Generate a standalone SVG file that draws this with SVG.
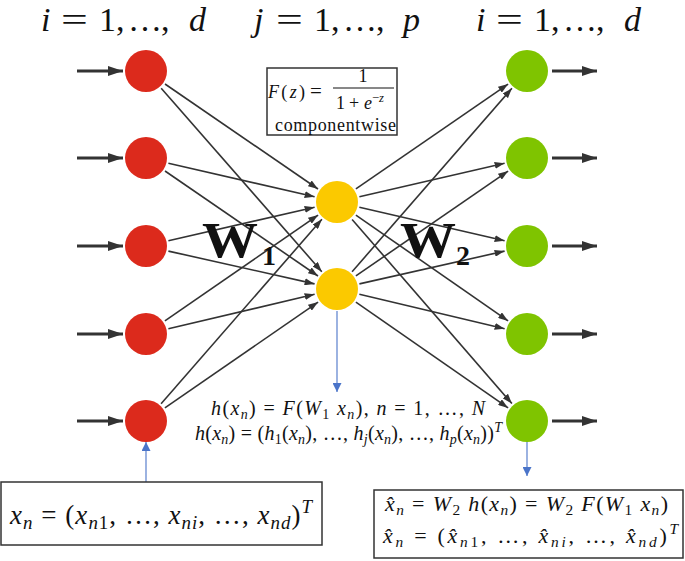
<svg xmlns="http://www.w3.org/2000/svg" width="685" height="561" viewBox="0 0 685 561">
<style>
text{font-family:'Liberation Serif','DejaVu Serif',serif;fill:#111}
.it{font-style:italic}
.sub{font-size:70%}
.c{stroke:#333;stroke-width:1.6;fill:none;marker-end:url(#ah)}
.io{stroke:#333;stroke-width:3.2;fill:none;marker-end:url(#ahb)}
.bl{stroke:#4a74c9;stroke-width:1.1;fill:none;marker-end:url(#ahblue)}
.red{fill:#dc2a1c}
.yel{fill:#fbc900}
.grn{fill:#7fc400}
.box{fill:#fff;stroke:#333;stroke-width:1.5}
</style>
<defs>
<marker id="ah" markerUnits="userSpaceOnUse" markerWidth="10" markerHeight="7" refX="10" refY="3.5" orient="auto"><path d="M0,0 L10,3.5 L0,7 z" fill="#333"/></marker>
<marker id="ahb" markerUnits="userSpaceOnUse" markerWidth="15" markerHeight="10" refX="15" refY="5" orient="auto"><path d="M0,0 L15,5 L0,10 z" fill="#333"/></marker>
<marker id="ahblue" markerUnits="userSpaceOnUse" markerWidth="9" markerHeight="9" refX="9" refY="4.5" orient="auto"><path d="M0,0 L9,4.5 L0,9 z" fill="#4a74c9"/></marker>
</defs>
<rect width="685" height="561" fill="#fff"/>

<g id="labels-top" font-family="Liberation Serif, serif" font-size="34">
<text y="31"><tspan x="41" class="it">i</tspan><tspan x="99">1,</tspan><tspan x="128">…</tspan><tspan x="161">,</tspan><tspan x="189" class="it">d</tspan></text>
<text transform="translate(61,31) scale(1.4,1)">=</text>
<text y="31"><tspan x="254" class="it">j</tspan><tspan x="314">1,</tspan><tspan x="343">…</tspan><tspan x="376">,</tspan><tspan x="403" class="it">p</tspan></text>
<text transform="translate(276,31) scale(1.4,1)">=</text>
<text y="31"><tspan x="476" class="it">i</tspan><tspan x="534">1,</tspan><tspan x="563">…</tspan><tspan x="596">,</tspan><tspan x="624" class="it">d</tspan></text>
<text transform="translate(496,31) scale(1.4,1)">=</text>
</g>

<g id="connectors">
<line class="c" x1="165.0" y1="84.0" x2="318.0" y2="189.0"/>
<line class="c" x1="161.2" y1="88.3" x2="321.8" y2="271.7"/>
<line class="c" x1="168.4" y1="163.2" x2="314.6" y2="196.8"/>
<line class="c" x1="165.0" y1="171.0" x2="318.0" y2="276.0"/>
<line class="c" x1="168.4" y1="240.8" x2="314.6" y2="207.2"/>
<line class="c" x1="168.4" y1="251.1" x2="314.6" y2="283.9"/>
<line class="c" x1="164.9" y1="320.9" x2="318.1" y2="215.1"/>
<line class="c" x1="168.4" y1="328.7" x2="314.6" y2="294.3"/>
<line class="c" x1="161.1" y1="403.7" x2="321.9" y2="219.3"/>
<line class="c" x1="164.9" y1="407.9" x2="318.1" y2="302.1"/>
<line class="c" x1="355.9" y1="188.9" x2="508.1" y2="84.1"/>
<line class="c" x1="359.4" y1="196.8" x2="504.6" y2="163.2"/>
<line class="c" x1="359.4" y1="207.2" x2="504.6" y2="240.8"/>
<line class="c" x1="355.9" y1="215.1" x2="508.1" y2="320.9"/>
<line class="c" x1="352.1" y1="219.4" x2="511.9" y2="403.6"/>
<line class="c" x1="352.1" y1="271.7" x2="511.9" y2="88.3"/>
<line class="c" x1="355.9" y1="275.9" x2="508.1" y2="171.1"/>
<line class="c" x1="359.4" y1="283.9" x2="504.6" y2="251.1"/>
<line class="c" x1="359.4" y1="294.3" x2="504.6" y2="328.7"/>
<line class="c" x1="355.9" y1="302.1" x2="508.1" y2="407.9"/>
<line class="io" x1="77" y1="71" x2="123" y2="71"/>
<line class="io" x1="77" y1="158" x2="123" y2="158"/>
<line class="io" x1="77" y1="246" x2="123" y2="246"/>
<line class="io" x1="77" y1="334" x2="123" y2="334"/>
<line class="io" x1="77" y1="421" x2="123" y2="421"/>
<line class="io" x1="552" y1="71" x2="597" y2="71"/>
<line class="io" x1="552" y1="158" x2="597" y2="158"/>
<line class="io" x1="552" y1="246" x2="597" y2="246"/>
<line class="io" x1="552" y1="334" x2="597" y2="334"/>
<line class="io" x1="552" y1="421" x2="597" y2="421"/>
<line class="bl" x1="337" y1="311" x2="337" y2="392"/>
<line class="bl" x1="146" y1="482" x2="146" y2="442"/>
<line class="bl" x1="527" y1="442" x2="527" y2="476"/>
</g>

<g id="input-nodes">
<circle class="red" cx="146" cy="71" r="21"/>
<circle class="red" cx="146" cy="158" r="21"/>
<circle class="red" cx="146" cy="246" r="21"/>
<circle class="red" cx="146" cy="334" r="21"/>
<circle class="red" cx="146" cy="421" r="21"/>
</g>
<g id="hidden-nodes">
<circle class="yel" cx="337" cy="202" r="21"/>
<circle class="yel" cx="337" cy="289" r="21"/>
</g>
<g id="output-nodes">
<circle class="grn" cx="527" cy="71" r="21"/>
<circle class="grn" cx="527" cy="158" r="21"/>
<circle class="grn" cx="527" cy="246" r="21"/>
<circle class="grn" cx="527" cy="334" r="21"/>
<circle class="grn" cx="527" cy="421" r="21"/>
</g>

<g id="activation-box" font-family="Liberation Serif, serif" font-size="18">
<rect class="box" x="267" y="68" width="130" height="67"/>
<text x="268" y="98" textLength="37" lengthAdjust="spacing"><tspan class="it">F</tspan>(<tspan class="it">z</tspan>)</text>
<text x="310" y="98" font-size="21">=</text>
<text x="363" y="82" text-anchor="middle">1</text>
<line x1="333" y1="88" x2="394" y2="88" stroke="#111" stroke-width="1"/>
<text y="109"><tspan x="336">1</tspan><tspan x="349">+</tspan><tspan x="364" class="it">e</tspan><tspan class="sub" dy="-7">−<tspan class="it">z</tspan></tspan></text>
<text x="275" y="131" textLength="121" lengthAdjust="spacing">componentwise</text>
</g>

<g id="weight-labels" font-family="Liberation Serif, serif" font-weight="bold">
<text x="202" y="257" font-size="50" textLength="56" lengthAdjust="spacingAndGlyphs">W</text>
<text x="262" y="265" font-size="28">1</text>
<text x="400" y="257" font-size="50" textLength="56" lengthAdjust="spacingAndGlyphs">W</text>
<text x="456" y="265" font-size="28">2</text>
</g>

<g id="hidden-formula" font-family="Liberation Serif, serif" font-size="20">
<text x="211" y="415" textLength="274" lengthAdjust="spacing"><tspan class="it">h</tspan>(<tspan class="it">x</tspan><tspan class="sub it" dy="4">n</tspan><tspan dy="-4">) = </tspan><tspan class="it">F</tspan>(<tspan class="it">W</tspan><tspan class="sub" dy="4">1</tspan><tspan dy="-4"> </tspan><tspan class="it">x</tspan><tspan class="sub it" dy="4">n</tspan><tspan dy="-4">), </tspan><tspan class="it">n</tspan> = 1, …, <tspan class="it">N</tspan></text>
<text x="195" y="440" textLength="307" lengthAdjust="spacing"><tspan class="it">h</tspan>(<tspan class="it">x</tspan><tspan class="sub it" dy="4">n</tspan><tspan dy="-4">) = (</tspan><tspan class="it">h</tspan><tspan class="sub" dy="4">1</tspan><tspan dy="-4">(</tspan><tspan class="it">x</tspan><tspan class="sub it" dy="4">n</tspan><tspan dy="-4">), …, </tspan><tspan class="it">h</tspan><tspan class="sub it" dy="4">j</tspan><tspan dy="-4">(</tspan><tspan class="it">x</tspan><tspan class="sub it" dy="4">n</tspan><tspan dy="-4">), …, </tspan><tspan class="it">h</tspan><tspan class="sub it" dy="4">p</tspan><tspan dy="-4">(</tspan><tspan class="it">x</tspan><tspan class="sub it" dy="4">n</tspan><tspan dy="-4">))</tspan><tspan class="sub it" dy="-8">T</tspan></text>
</g>

<g id="input-box" font-family="Liberation Serif, serif" font-size="27">
<rect class="box" x="1" y="482" width="321" height="63"/>
<text x="10" y="524" textLength="302" lengthAdjust="spacing"><tspan class="it">x</tspan><tspan class="sub it" dy="5">n</tspan><tspan dy="-5"> = (</tspan><tspan class="it">x</tspan><tspan class="sub it" dy="5">n</tspan><tspan class="sub">1</tspan><tspan dy="-5">, …, </tspan><tspan class="it">x</tspan><tspan class="sub it" dy="5">ni</tspan><tspan dy="-5">, …, </tspan><tspan class="it">x</tspan><tspan class="sub it" dy="5">nd</tspan><tspan dy="-5">)</tspan><tspan class="sub it" dy="-11">T</tspan></text>
</g>

<g id="output-box" font-family="Liberation Serif, serif" font-size="22">
<rect class="box" x="374" y="490" width="309" height="68"/>
<text x="385" y="511" textLength="283" lengthAdjust="spacing"><tspan class="it">x̂</tspan><tspan class="sub it" dy="4">n</tspan><tspan dy="-4"> = </tspan><tspan class="it">W</tspan><tspan class="sub" dy="4">2</tspan><tspan dy="-4"> </tspan><tspan class="it">h</tspan>(<tspan class="it">x</tspan><tspan class="sub it" dy="4">n</tspan><tspan dy="-4">) = </tspan><tspan class="it">W</tspan><tspan class="sub" dy="4">2</tspan><tspan dy="-4"> </tspan><tspan class="it">F</tspan>(<tspan class="it">W</tspan><tspan class="sub" dy="4">1</tspan><tspan dy="-4"> </tspan><tspan class="it">x</tspan><tspan class="sub it" dy="4">n</tspan><tspan dy="-4">)</tspan></text>
<text x="383" y="543" textLength="295" lengthAdjust="spacing"><tspan class="it">x̂</tspan><tspan class="sub it" dy="4">n</tspan><tspan dy="-4"> = (</tspan><tspan class="it">x̂</tspan><tspan class="sub it" dy="4">n</tspan><tspan class="sub">1</tspan><tspan dy="-4">, …, </tspan><tspan class="it">x̂</tspan><tspan class="sub it" dy="4">ni</tspan><tspan dy="-4">, …, </tspan><tspan class="it">x̂</tspan><tspan class="sub it" dy="4">nd</tspan><tspan dy="-4">)</tspan><tspan class="sub it" dy="-9">T</tspan></text>
</g>
</svg>
